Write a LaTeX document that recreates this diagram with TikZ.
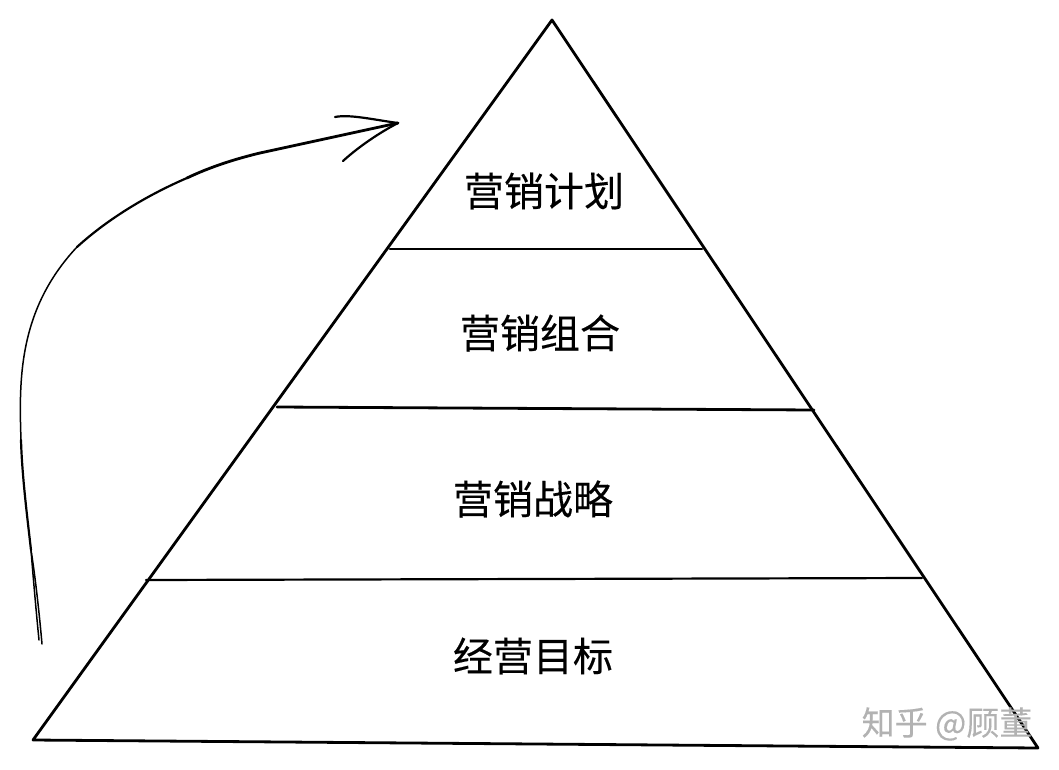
\documentclass[tikz,border=0pt]{standalone}
\usepackage{fontspec}
\setmainfont[FakeBold=0.25]{Noto Sans CJK SC}
\begin{document}
\begin{tikzpicture}[x=1pt,y=-1pt]
\tikzset{
    level/.style={font=\fontsize{40}{40}\selectfont, anchor=center, inner sep=0pt},
    mark text/.style={font=\fontsize{33}{33}\selectfont, text=black!30, anchor=center, inner sep=0pt},
    edge/.style={line width=2.8pt, line cap=round, line join=round},
    mid edge/.style={line width=2.2pt, line cap=round, line join=round},
    thin edge/.style={line width=1.5pt, line cap=round},
}
\useasboundingbox (0,0) rectangle (1059,770);

\coordinate (top) at (552,20);    % apex
\coordinate (bl) at (33,740);     % bottom left
\coordinate (br) at (1038,748);   % bottom right

% Draw the outline first.
\draw[edge] (top) -- (bl) -- (br) -- cycle;

% The three bands.
\coordinate (a1) at (390,249);
\coordinate (a2) at (702,249);
\coordinate (b1) at (277,407);
\coordinate (b2) at (814,410);
\coordinate (c1) at (146,580);
\coordinate (c2) at (922,578);
\draw[edge] (a1) -- (a2);
\draw[edge] (b1) -- (b2);
\draw[mid edge] (c1) -- (c2);

% Labels, top to bottom.
\node[level] (plan) at (544,191) {营销计划};
\node[level] (mix) at (540,333) {营销组合};
\node[level] (strategy) at (533,499) {营销战略};
\node[level] (goal) at (533,656) {经营目标};

% The hand-drawn arrow, tail first.
\coordinate (tail) at (39,640);
\coordinate (tail2) at (42,644);
\coordinate (fork) at (31,550);
\coordinate (bend) at (21,440);
\coordinate (s1) at (77,247);
\coordinate (s2) at (187,178);
\coordinate (tip) at (398,123);
\coordinate (barb1) at (335,117);
\coordinate (barb2) at (343,161);
\draw[thin edge] (tail) .. controls (36,610) and (33,575) .. (fork);
\draw[thin edge] (tail2) .. controls (39,610) and (35,575) .. (fork);
\draw[mid edge] (fork) .. controls (27,515) and (22,475) .. (bend);
\draw[thin edge] (bend) .. controls (19,380) and (18,310) .. (s1);
\draw[mid edge] (s1) .. controls (110,217) and (150,194) .. (s2);
\draw[edge] (s2) .. controls (210,167) and (235,159) .. (260,153) -- (tip);
\draw[mid edge] (barb1) .. controls (350,114) and (375,120) .. (tip);
\draw[mid edge] (barb2) .. controls (355,150) and (375,135) .. (tip);

% Watermark.
\node[mark text] (credit) at (947,724) {知乎 @顾董};
\end{tikzpicture}
\end{document}
